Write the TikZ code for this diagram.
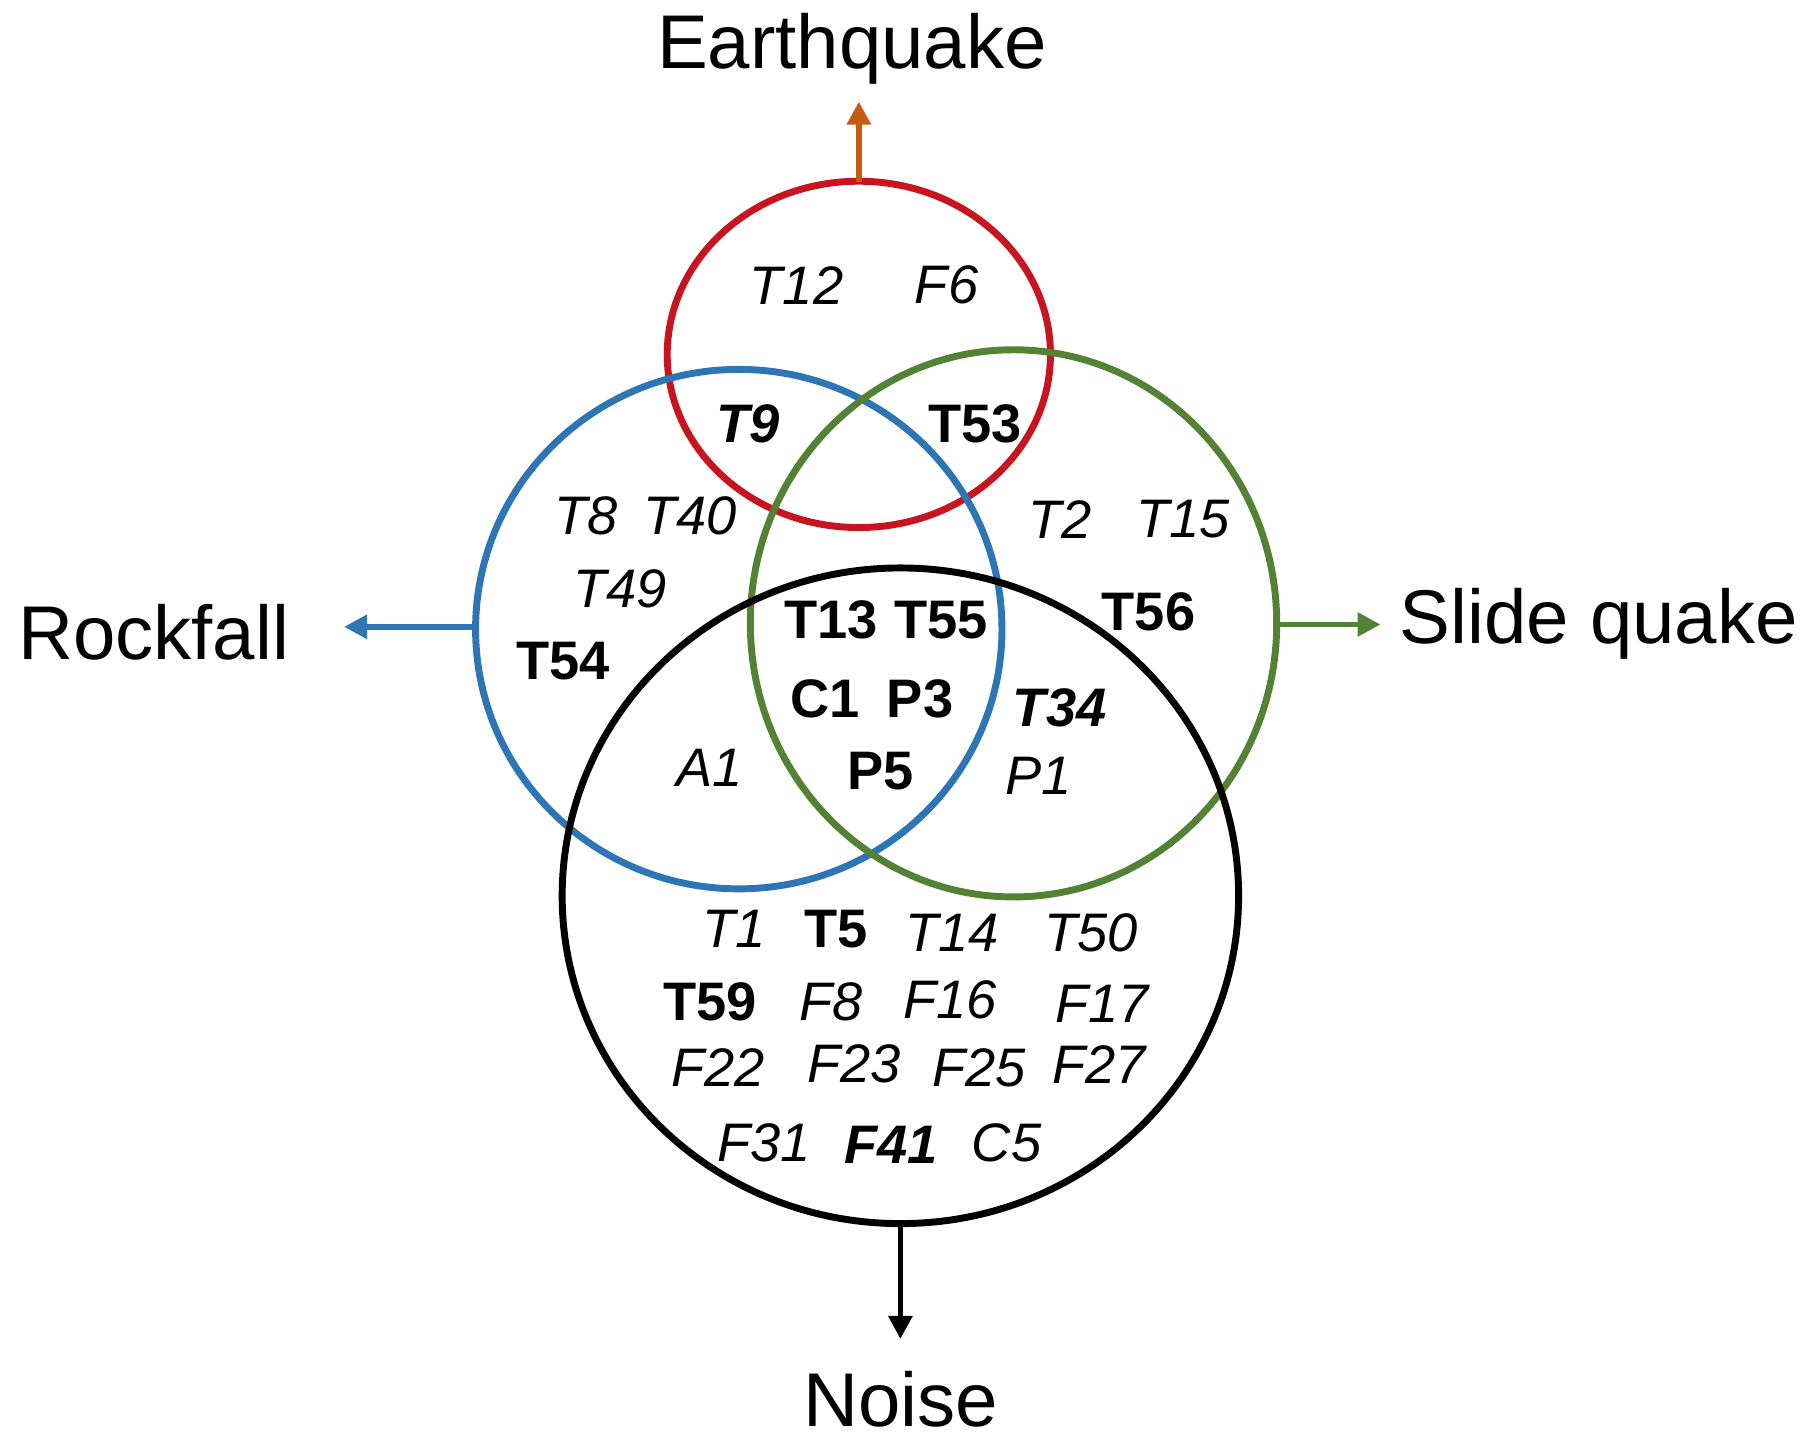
\documentclass[tikz,border=0pt]{standalone}
\usepackage{fontspec}
\setmainfont{Liberation Sans}
\usetikzlibrary{arrows.meta}
\definecolor{cred}{RGB}{200,20,30}
\definecolor{cblue}{RGB}{46,117,182}
\definecolor{cgreen}{RGB}{84,130,53}
\definecolor{corange}{RGB}{197,90,17}
\begin{document}
\begin{tikzpicture}[x=0.5pt,y=-0.5pt,
  ring/.style={line width=3pt},
  arr/.style={line width=2.5pt,-{Triangle[length=10pt,width=10pt]}},
  lab/.style={font=\fontsize{33}{33}\selectfont},
  it/.style={font=\fontsize{23.5}{23.5}\selectfont\itshape},
  bf/.style={font=\fontsize{23.5}{23.5}\selectfont\bfseries},
  bi/.style={font=\fontsize{23.5}{23.5}\selectfont\bfseries\itshape}]
\useasboundingbox (0,0) rectangle (1568,1254);
\draw[ring,cred] (744,307) ellipse [x radius=166, y radius=150];
\draw[ring,cblue] (640,545) ellipse [x radius=228, y radius=225];
\draw[ring,cgreen] (878,540) ellipse [x radius=228, y radius=237];
\draw[ring,black] (780,776) ellipse [x radius=293, y radius=284];
\coordinate (eqs) at (744,158); \coordinate (eqe) at (744,88);
\coordinate (rfs) at (412,543); \coordinate (rfe) at (298,543);
\coordinate (sqs) at (1106,541); \coordinate (sqe) at (1196,541);
\coordinate (ns) at (780,1060); \coordinate (ne) at (780,1160);
\draw[arr,corange] (eqs) -- (eqe);
\draw[arr,cblue] (rfs) -- (rfe);
\draw[arr,cgreen] (sqs) -- (sqe);
\draw[arr,black] (ns) -- (ne);
\node[lab] (eq) at (738,42) {Earthquake};
\node[lab] (rf) at (133,548) {Rockfall};
\node[lab] (sq) at (1385,540) {Slide quake};
\node[lab] (no) at (780,1212) {Noise};
\foreach \s/\x/\y/\t in {it/690/247/T12, it/820/247/F6, bi/648/367/T9, bf/845/367/T53,
  it/508/447/T8, it/598/447/T40, it/537/510/T49, bf/488/573/T54,
  it/918/450/T2, it/1025/450/T15, bf/995/530/T56,
  bf/720/537/T13, bf/815/537/T55, bf/715/605/C1, bf/797/605/P3, bf/763/668/P5,
  bi/918/613/T34, it/900/672/P1, it/615/665/A1,
  it/636/805/T1, bf/724/805/T5, it/825/808/T14, it/945/808/T50,
  bf/615/868/T59, it/720/868/F8, it/823/866/F16, it/955/870/F17,
  it/622/925/F22, it/740/922/F23, it/848/925/F25, it/952/922/F27,
  it/662/990/F31, bi/772/992/F41, it/872/990/C5}
  \node[\s] (n\t) at (\x,\y) {\t};
\end{tikzpicture}
\end{document}
